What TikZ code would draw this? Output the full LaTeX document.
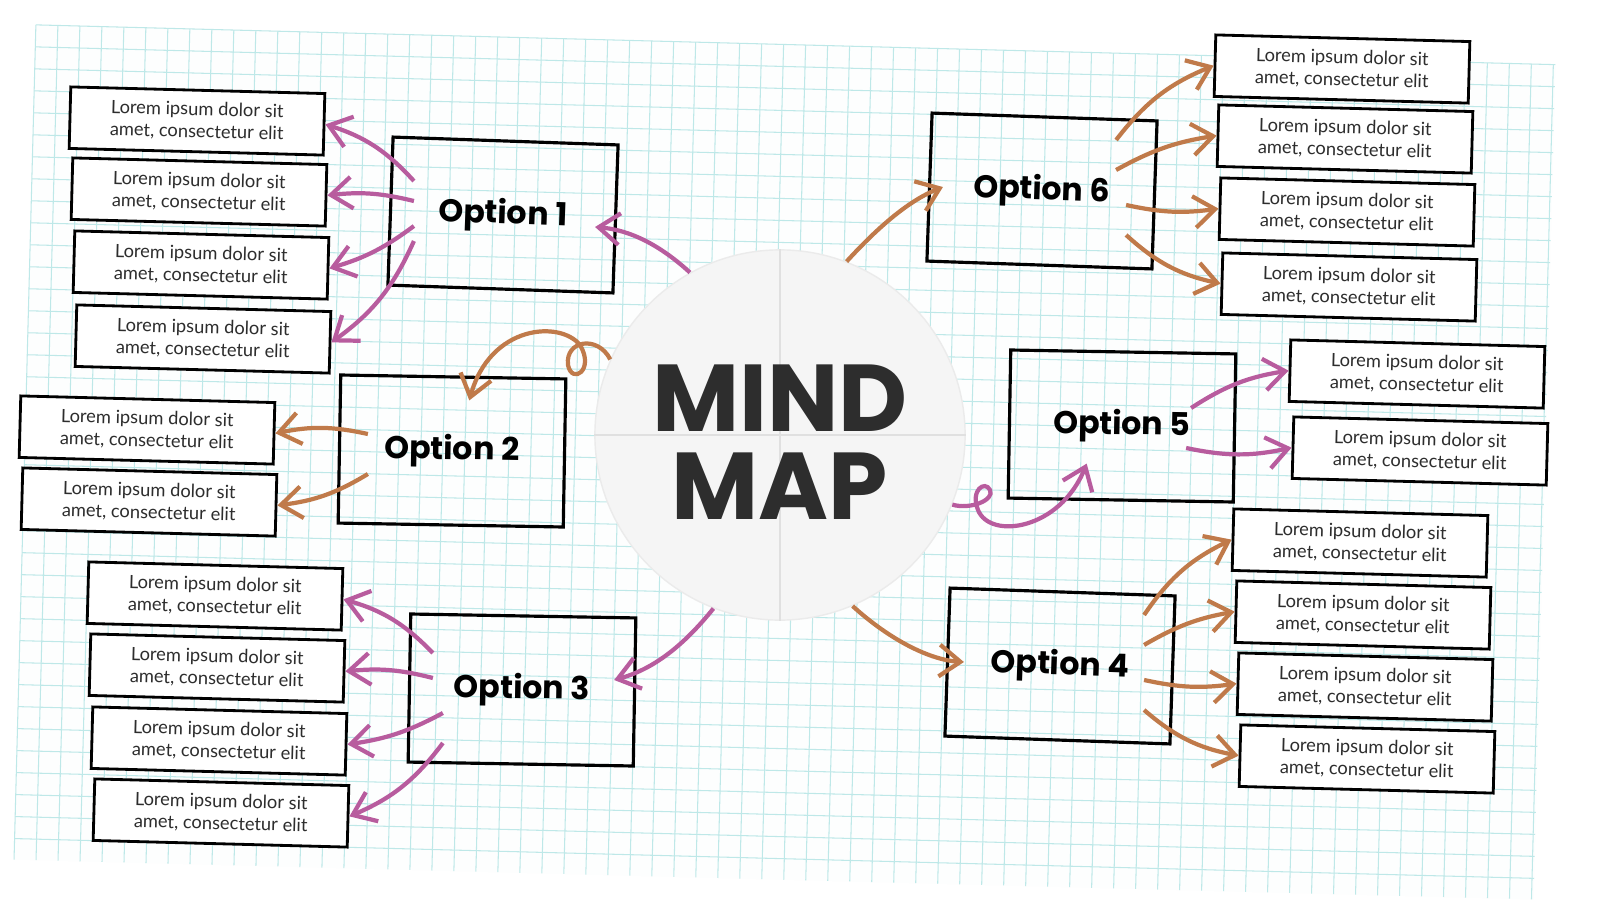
\documentclass[tikz,border=0pt]{standalone}
\usepackage{fontspec}
\setmainfont{Lato}
\newfontfamily\optfont{Poppins}
\usetikzlibrary{arrows.meta,positioning}
\definecolor{mypurple}{RGB}{184,92,158}
\definecolor{mybrown}{RGB}{192,122,74}
\definecolor{mygrid}{RGB}{190,232,232}
\definecolor{mydark}{RGB}{45,45,45}
\begin{document}
\begin{tikzpicture}[x=0.01cm,y=-0.01cm,
  optbox/.style={draw=black,line width=0.9pt,minimum width=2.25cm,minimum height=1.48cm,font=\optfont\fontsize{9}{10}\selectfont\bfseries},
  leaf/.style={draw=black,line width=0.8pt,fill=white,minimum width=2.54cm,minimum height=0.6cm,align=center,
    font=\fontsize{5.2}{6.3}\selectfont,text=mydark},
  parr/.style={draw=mypurple,line width=1.2pt,-{Straight Barb[length=6pt,width=9pt]}},
  barr/.style={draw=mybrown,line width=1.2pt,-{Straight Barb[length=6pt,width=9pt]}}]

  \useasboundingbox (0,0) rectangle (1600,900);
  \fill[white] (0,0) rectangle (1600,900);

  % grid paper
  \begin{scope}[rotate around={-1.5:(800,450)}]
    \fill[white!97!mygrid] (25,45) rectangle (1545,880);
    \foreach \gx in {25,47,...,1545} \draw[mygrid,line width=0.3pt] (\gx,45) -- (\gx,880);
    \foreach \gy in {45,67,...,880} \draw[mygrid,line width=0.3pt] (25,\gy) -- (1545,\gy);
  \end{scope}

  % centre
  \node[circle,fill=black!4,draw=black!8,minimum size=3.7cm] (c) at (780,435) {};
  \draw[black!12,line width=0.3pt] (c.north) -- (c.south) (c.west) -- (c.east);
  \node[align=center,text=mydark,font=\optfont\bfseries\fontsize{27}{25}\selectfont] (title) at (780,442) {MIND\\MAP};

  % options
  \node[optbox,rotate=-2] (o1) at (503,215) {Option 1};
  \node[optbox,rotate=-1] (o2) at (452,451) {Option 2};
  \node[optbox,rotate=-1] (o3) at (522,690) {Option 3};
  \node[optbox,rotate=-2] (o4) at (1060,666) {Option 4};
  \node[optbox,rotate=-1] (o5) at (1122,426) {Option 5};
  \node[optbox,rotate=-2] (o6) at (1042,191) {Option 6};

  % leaves
  \foreach \n/\x/\y in {a1/197/121,a2/199/192,a3/201/265,a4/203/339,
      b1/147/430,b2/149/502,
      c1/215/596,c2/217/668,c3/219/741,c4/221/813,
      f1/1342/69,f2/1345/139,f3/1347/212,f4/1349/287,
      e1/1417/374,e2/1420/451,
      d1/1360/543,d2/1363/615,d3/1365/687,d4/1367/759}
    \node[leaf,rotate=-1.5] (\n) at (\x,\y) {Lorem ipsum dolor sit\\amet, consectetur elit};

  % centre to options
  \draw[parr] (c.119) .. controls (660,245) and (630,230) .. ([shift={(-22,8)}]o1.east);
  \draw[barr] (c.69) .. controls (880,225) and (910,200) .. ([shift={(15,0)}]o6.west);
  \draw[barr] (c.-67) .. controls (890,640) and (930,660) .. ([shift={(18,0)}]o4.west);
  \draw[parr] (c.-111) .. controls (680,650) and (650,670) .. ([shift={(-22,-12)}]o3.east);
  \draw[barr] (c.156) .. controls (598,335) and (565,340) .. (568,365)
     .. controls (572,385) and (595,370) .. (580,345)
     .. controls (560,320) and (490,325) .. ([shift={(16,25)}]o2.north);
  \draw[parr] (c.-22) .. controls (970,510) and (995,500) .. (990,490)
     .. controls (985,480) and (970,490) .. (978,510)
     .. controls (990,540) and (1060,530) .. ([shift={(-34,-38)}]o5.south);

  % option 1
  \draw[parr] ([shift={(25,-30)}]o1.west) to[bend right=15] (a1.east);
  \draw[parr] ([shift={(25,-10)}]o1.west) to[bend right=10] (a2.east);
  \draw[parr] ([shift={(25,15)}]o1.west) to[bend left=10] (a3.east);
  \draw[parr] ([shift={(25,30)}]o1.west) to[bend left=15] (a4.east);
  % option 2
  \draw[barr] ([shift={(30,-15)}]o2.west) to[bend right=12] (b1.east);
  \draw[barr] ([shift={(30,25)}]o2.west) to[bend left=12] (b2.east);
  % option 3
  \draw[parr] ([shift={(25,-35)}]o3.west) to[bend right=15] (c1.east);
  \draw[parr] ([shift={(25,-10)}]o3.west) to[bend right=10] (c2.east);
  \draw[parr] ([shift={(35,25)}]o3.west) to[bend left=10] (c3.east);
  \draw[parr] ([shift={(35,55)}]o3.west) to[bend left=15] (c4.east);
  % option 6
  \draw[barr] ([shift={(-40,-55)}]o6.east) to[bend left=15] (f1.west);
  \draw[barr] ([shift={(-40,-25)}]o6.east) to[bend left=10] (f2.west);
  \draw[barr] ([shift={(-30,10)}]o6.east) to[bend right=10] (f3.west);
  \draw[barr] ([shift={(-30,40)}]o6.east) to[bend right=15] (f4.west);
  % option 5
  \draw[parr] ([shift={(-45,-20)}]o5.east) to[bend left=12] (e1.west);
  \draw[parr] ([shift={(-50,20)}]o5.east) to[bend right=12] (e2.west);
  % option 4
  \draw[barr] ([shift={(-30,-55)}]o4.east) to[bend left=15] (d1.west);
  \draw[barr] ([shift={(-30,-25)}]o4.east) to[bend left=10] (d2.west);
  \draw[barr] ([shift={(-30,10)}]o4.east) to[bend right=10] (d3.west);
  \draw[barr] ([shift={(-30,40)}]o4.east) to[bend right=15] (d4.west);
\end{tikzpicture}
\end{document}
